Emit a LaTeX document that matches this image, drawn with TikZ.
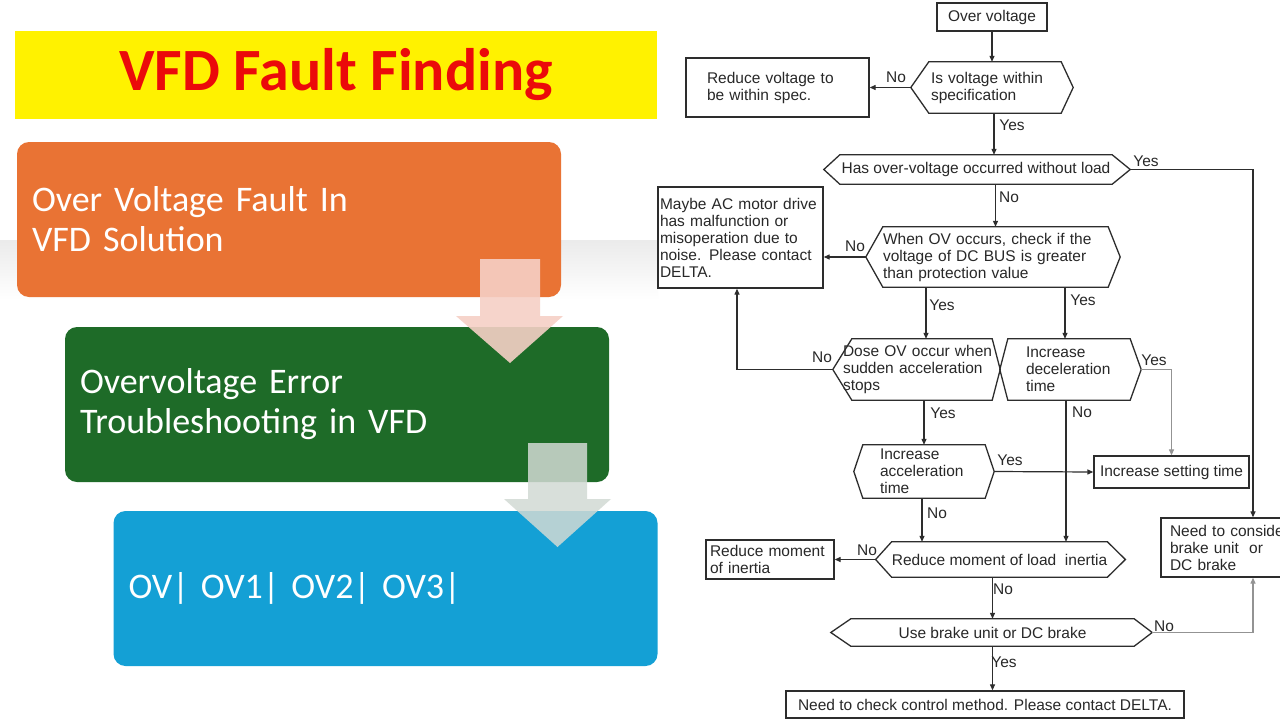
\documentclass[tikz,border=0pt]{standalone}
\usepackage{fontspec}
\setmainfont{Liberation Sans}
\newfontfamily\slidefont{Carlito}
\usepackage{xcolor}
\definecolor{slideorange}{RGB}{233,115,52}
\definecolor{slidegreen}{RGB}{30,107,40}
\definecolor{slideblue}{RGB}{20,160,213}
\definecolor{titlered}{RGB}{235,10,10}
\definecolor{arrowpink}{RGB}{246,208,198}
\definecolor{arrowgrey}{RGB}{210,218,212}
\definecolor{flowline}{RGB}{45,45,45}
\definecolor{flowtext}{RGB}{40,40,40}
\usetikzlibrary{arrows.meta,calc}

\newcommand{\flowsize}{\fontsize{15.5}{17}\selectfont}
% decision frame round a node: name, left depth, right depth
\newcommand{\hexframe}[3]{%
  \coordinate (#1-l) at ($(#1.west)+(-#2,0)$);
  \coordinate (#1-r) at ($(#1.east)+(#3,0)$);
  \draw[hexline] (#1.north west) -- (#1-l) -- (#1.south west) -- (#1.south east)
    -- (#1-r) -- (#1.north east) -- cycle;}

\begin{document}
\begin{tikzpicture}[
    x=1pt, y=-1pt,
    banner/.style={fill=yellow, minimum width=642, minimum height=88,
                   text=titlered, font=\slidefont\bfseries\fontsize{60}{72}\selectfont},
    slidebox/.style={rounded corners=12pt, minimum width=544, minimum height=155,
                     text width=514, inner xsep=15, align=left, text=white,
                     font=\slidefont\fontsize{36}{40}\selectfont},
    boxn/.style={draw=flowline, line width=1.3pt, fill=white, font=\flowsize,
                 text=flowtext, inner ysep=0, align=left},
    hexn/.style={font=\flowsize, text=flowtext, inner ysep=0, align=left},
    hexline/.style={draw=flowline, line width=1.3pt, line join=miter},
    arr/.style={-{Triangle[length=6pt,width=5pt]}, line width=1.2pt, draw=flowline},
    garr/.style={arr, draw=gray!85},
    lbl/.style={font=\flowsize, text=flowtext, inner sep=0},
  ]
  \useasboundingbox (0,0) rectangle (1280,720);
  \clip (0,0) rectangle (1280,720);
  \fill[white] (0,0) rectangle (1280,720);
  \shade[top color=gray!16, bottom color=white] (0,240) rectangle (658,300);

  % slide side
  \node[banner] (banner) at (336,75) {VFD Fault Finding};
  \node[slidebox, fill=slideorange] (ovbox) at (289,219.5) {Over Voltage Fault In\\VFD Solution};
  \node[slidebox, fill=slidegreen] (errbox) at (337,404.5) {Overvoltage Error\\Troubleshooting in VFD};
  \node[slidebox, fill=slideblue] (codebox) at (385.5,588.5) {OV| OV1| OV2| OV3|};

  \fill[arrowpink, opacity=.9] (480,259) -- (540,259) -- (540,316) -- (563,316)
    -- (510,363) -- (456,316) -- (480,316) -- cycle;
  \fill[arrowgrey, opacity=.85] (528,443) -- (587,443) -- (587,499) -- (611,499)
    -- (557.5,547) -- (504,499) -- (528,499) -- cycle;

  % flowchart side
  \node[boxn, minimum width=110, minimum height=28, align=center] (start) at (992,17) {Over voltage};
  \node[hexn, minimum height=51, text width=128, inner xsep=2] (ovspec) at (995,87.5) {Is voltage within\\specification};
  \node[boxn, minimum height=59, text width=141, inner xsep=21] (redv) at (777.5,87.5) {Reduce voltage to\\be within spec.};
  \node[hexn, minimum width=272, minimum height=29, inner xsep=0, align=center] (noload) at (976,169.5) {Has over-voltage occurred without load};
  \node[hexn, minimum height=60, text width=225, inner xsep=0] (dcbus) at (995.5,257) {When OV occurs, check if the\\voltage of DC BUS is greater\\than protection value};
  \node[boxn, minimum height=101, text width=161, inner xsep=2] (maybe) at (740.5,237.5) {Maybe AC motor drive\\has malfunction or\\misoperation due to\\noise. Please contact\\DELTA.};
  \node[hexn, minimum height=61, text width=158, inner xsep=-9] (suddacc) at (922,369.5) {Dose OV occur when\\sudden acceleration\\stops};
  \node[hexn, minimum height=61, text width=86, inner xsep=18] (incdec) at (1069,369.5) {Increase\\deceleration\\time};
  \node[hexn, minimum height=53, text width=88, inner xsep=17] (incacc) at (924,471.5) {Increase\\acceleration\\time};
  \node[boxn, minimum width=155, minimum height=32, inner xsep=0, align=center] (incset) at (1171.5,472) {Increase setting time};
  \node[hexn, minimum width=213, minimum height=35, inner xsep=0, align=center] (redload) at (999.5,559.5) {Reduce moment of load~ inertia};
  \node[boxn, minimum height=39, text width=120, inner xsep=4] (redinert) at (770,559.5) {Reduce moment\\of inertia};
  \node[hexn, minimum width=283, minimum height=27, inner xsep=0, align=center] (brake) at (992.5,632.5) {Use brake unit or DC brake};
  \node[boxn, minimum height=59, text width=140, inner xsep=9] (brakebox) at (1240,547.5) {Need to consider\\brake unit~ or\\DC brake};
  \node[boxn, minimum width=398, minimum height=27, inner xsep=0, align=center] (final) at (985,704.5) {Need to check control method. Please contact DELTA.};

  \hexframe{ovspec}{18}{12}
  \hexframe{noload}{16}{18}
  \hexframe{dcbus}{17}{12}
  \hexframe{suddacc}{19}{8}
  \hexframe{incdec}{8}{11}
  \hexframe{incacc}{9}{9}
  \hexframe{redload}{16}{18}
  \hexframe{brake}{20}{18}
  \coordinate (rtrack) at (1253,0);

  \draw[arr] (start.south) -- (start.south |- ovspec.north);
  \draw[arr] (ovspec-l) -- (redv.east);
  \draw[arr] ([xshift=-1pt]ovspec.south) -- ([xshift=-1pt]ovspec.south |- noload.north);
  \draw[arr] (noload-r) -| (rtrack |- brakebox.north);
  \draw[arr] (dcbus.north |- noload.south) -- (dcbus.north);
  \draw[arr] (dcbus-l) -- (dcbus-l -| maybe.east);
  \draw[arr] ([xshift=4pt]suddacc.north |- dcbus.south) -- ([xshift=4pt]suddacc.north);
  \draw[arr] ([xshift=-4pt]incdec.north |- dcbus.south) -- ([xshift=-4pt]incdec.north);
  \draw[arr] (suddacc-l) -| ([xshift=-3.5pt]maybe.south);
  \draw[garr] (incdec-r) -| (incset.north);
  \draw[arr] (incacc.north |- suddacc.south) -- (incacc.north);
  \draw[arr] (incacc-r) -- (incset.west);
  \draw[arr] ([xshift=-2pt]incacc.south) -- ([xshift=-2pt]incacc.south |- redload.north);
  \draw[arr] ([xshift=-3pt]incdec.south) -- ([xshift=-3pt]incdec.south |- redload.north);
  \draw[arr] (redload-l) -- (redinert.east);
  \draw[arr] (brake.north |- redload.south) -- (brake.north);
  \draw[garr] (brake-r) -| (rtrack |- brakebox.south);
  \draw[arr] (brake.south) -- (brake.south |- final.north);

  \node[lbl] (lno1) at (896,77) {No};
  \node[lbl] (lyes1) at (1012,125) {Yes};
  \node[lbl] (lyes2) at (1146,161) {Yes};
  \node[lbl] (lno2) at (1009,197) {No};
  \node[lbl] (lno3) at (855,246) {No};
  \node[lbl] (lyes3) at (942,305) {Yes};
  \node[lbl] (lyes4) at (1083,300) {Yes};
  \node[lbl] (lno4) at (822,357) {No};
  \node[lbl] (lyes5) at (1154,360) {Yes};
  \node[lbl] (lyes6) at (943,413) {Yes};
  \node[lbl] (lno5) at (1082,412) {No};
  \node[lbl] (lyes7) at (1010,460) {Yes};
  \node[lbl] (lno6) at (937,513) {No};
  \node[lbl] (lno7) at (867,550) {No};
  \node[lbl] (lno8) at (1003,589) {No};
  \node[lbl] (lno9) at (1164,626) {No};
  \node[lbl] (lyes8) at (1004,662) {Yes};
\end{tikzpicture}
\end{document}
